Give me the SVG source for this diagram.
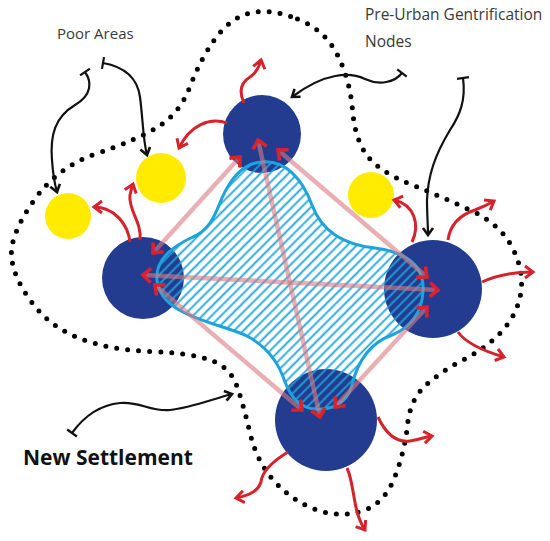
<svg xmlns="http://www.w3.org/2000/svg" width="550" height="541" viewBox="0 0 550 541">
<style>
.node{fill:#233c8f}
.poor{fill:#ffeb00}
.boundary{fill:none;stroke:#000;stroke-width:5;stroke-linecap:round;stroke-dasharray:0 11}
.blk{fill:none;stroke:#111;stroke-width:2.2;marker-start:url(#tbar);marker-end:url(#blkhead)}
.red{fill:none;stroke:#d6222a;stroke-width:3;marker-end:url(#redhead)}
.link{stroke:#d97a82;stroke-opacity:0.6;stroke-width:4.5;marker-start:url(#linkhead);marker-end:url(#linkhead)}
.label{font-family:"Open Sans","Liberation Sans",sans-serif;fill:#3a3a3a}
</style>
<defs>
<pattern id="hatch" patternUnits="userSpaceOnUse" width="6.6" height="6.6" patternTransform="rotate(45)">
<line x1="3.3" y1="0" x2="3.3" y2="6.6" stroke="#1ba3dd" stroke-width="1.8"/>
</pattern>
<marker id="tbar" markerUnits="userSpaceOnUse" markerWidth="20" markerHeight="20" refX="0" refY="0" viewBox="-10 -10 20 20" orient="auto" overflow="visible">
<path d="M0,-6 L0,6" stroke="#111" stroke-width="2.2" fill="none"/>
</marker>
<marker id="blkhead" markerUnits="userSpaceOnUse" markerWidth="20" markerHeight="20" refX="0" refY="0" viewBox="-10 -10 20 20" orient="auto" overflow="visible">
<path d="M-7,-5 L0,0 L-7,5" stroke="#111" stroke-width="2.6" fill="none" stroke-linejoin="miter"/>
</marker>
<marker id="redhead" markerUnits="userSpaceOnUse" markerWidth="20" markerHeight="20" refX="0" refY="0" viewBox="-10 -10 20 20" orient="auto" overflow="visible">
<path d="M-8,-6 L0,0 L-8,6" stroke="#d6222a" stroke-width="3" fill="none"/>
</marker>
<marker id="linkhead" markerUnits="userSpaceOnUse" markerWidth="20" markerHeight="20" refX="0" refY="0" viewBox="-10 -10 20 20" orient="auto-start-reverse" overflow="visible">
<path d="M-8,-7 L0,0 L-8,7" stroke="#e0202a" stroke-width="3.5" fill="none"/>
</marker>
</defs>

<g id="poor-left"><circle class="poor" cx="68" cy="216" r="23"/></g>
<g id="poor-mid"><circle class="poor" cx="161" cy="178" r="25"/></g>
<g id="poor-right"><circle class="poor" cx="371" cy="195" r="23"/></g>

<g id="new-settlement-boundary">
<path class="boundary" d="M 297.5,19 Q 325,30 337.5,55 Q 350,80 352.5,110 Q 355,140 367.5,156 Q 380,172 410,184 Q 440,196 470,210 Q 500,224 512,247 Q 524,270 521,291.5 Q 518,313 503,330 Q 488,347 464,359.5 Q 440,372 425,386 Q 410,400 407.5,425 Q 405,450 395,476.5 Q 385,503 363.5,510.5 Q 342,518 318.5,510.5 Q 295,503 276,483 Q 257,463 250,433 Q 243,403 236.5,385 Q 230,367 210,360 Q 190,353 150,351.5 Q 110,350 80,338.5 Q 50,327 31.5,302 Q 13,277 11.5,256 Q 10,235 33.5,201 Q 57,167 97,153.5 Q 137,140 158.5,126.5 Q 180,113 190,86.5 Q 200,60 215,39 Q 230,18 250,13 Q 270,8 297.5,19 Z"/>
</g>

<g id="node-top"><circle class="node" cx="262" cy="134" r="39"/></g>
<g id="node-left"><circle class="node" cx="143" cy="278" r="41"/></g>
<g id="node-right"><circle class="node" cx="433" cy="289" r="49"/></g>
<g id="node-bottom"><circle class="node" cx="326" cy="420" r="51"/></g>

<g id="core-area">
<path d="M 262,162 C 285,160 302,178 312,205 C 322,232 345,245 375,248 C 405,252 425,265 423,292 C 422,312 410,328 392,335 C 370,343 358,360 352,385 C 347,405 330,410 315,409 C 298,408 290,395 285,382 C 278,360 265,345 245,335 C 215,322 160,315 157,280 C 155,258 175,245 193,237 C 210,230 215,215 222,198 C 230,180 242,163 262,162 Z" fill="url(#hatch)" stroke="#1ba3dd" stroke-width="3"/>
</g>

<g id="connectors">
<line class="link" x1="240" y1="157" x2="153" y2="253"/>
<line class="link" x1="258" y1="140" x2="320" y2="417"/>
<line class="link" x1="278" y1="150" x2="427" y2="277"/>
<line class="link" x1="143" y1="275" x2="438" y2="290"/>
<line class="link" x1="155" y1="285" x2="302" y2="410"/>
<line class="link" x1="335" y1="407" x2="427" y2="307"/>

<path class="red" d="M 244,103 C 238,90 242,82 250,77 C 256,73 259,68 261,60"/>
<path class="red" d="M 227,123 C 210,117 190,125 179,148"/>
<path class="red" d="M 130,242 C 128,225 115,207 94,207"/>
<path class="red" d="M 140,240 C 142,222 128,210 130,195 C 131,190 132,187 133,184"/>
<path class="red" d="M 412,242 C 420,225 415,205 394,200"/>
<path class="red" d="M 448,240 C 450,225 460,215 475,210 C 483,207 489,204 494,201"/>
<path class="red" d="M 482,282 C 495,276 510,272 533,272"/>
<path class="red" d="M 458,332 C 465,342 480,350 504,357"/>
<path class="red" d="M 378,417 C 385,432 395,443 410,441 C 418,440 425,437 432,436"/>
<path class="red" d="M 347,468 C 355,485 352,510 365,530"/>
<path class="red" d="M 288,452 C 275,460 262,470 261,482 C 258,492 248,496 236,498"/>

<path class="blk" d="M 85,72 C 92,82 92,95 75,105 C 55,117 50,135 52,160 C 53,175 55,185 57,192"/>
<path class="blk" d="M 103,63 C 120,66 137,75 140,97 C 143,120 143,140 147,155"/>
<path class="blk" d="M 402,73 C 395,82 380,86 365,79 C 350,72 325,72 292,97"/>
<path class="blk" d="M 463,78 C 466,100 460,115 450,130 C 435,155 428,175 427,200 C 427,215 428,225 428,235"/>
<path class="blk" d="M 72,433 C 85,415 100,405 120,403 C 140,401 150,412 170,410 C 190,408 210,400 232,394"/>
</g>

<g id="labels">
<text class="label" x="57" y="39" font-size="15">Poor Areas</text>
<text class="label" x="365" y="20" font-size="15.5">Pre-Urban Gentrification</text>
<text class="label" x="365" y="47" font-size="15.5">Nodes</text>
<text class="label" x="23" y="465" font-size="21" font-weight="bold" style="fill:#111">New Settlement</text>
</g>
</svg>
